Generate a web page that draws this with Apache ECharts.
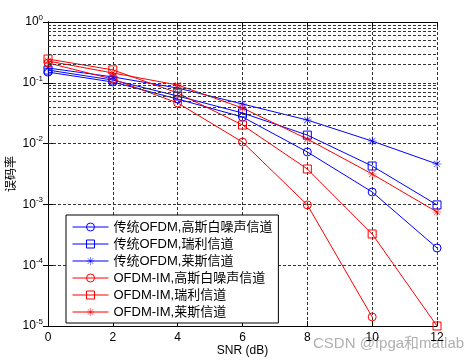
<!DOCTYPE html>
<html>
<head>
<meta charset="utf-8">
<script src="https://cdn.jsdelivr.net/npm/echarts@6/dist/echarts.min.js"></script>
<style>html,body{margin:0;padding:0;background:#fff;}#c{width:474px;height:361px;}</style>
</head>
<body>
<div id="c"></div>
<script>
const snr = [0, 2, 4, 6, 8, 10, 12];
const xTicks = [0, 2, 4, 6, 8, 10, 12];
const ofdmAwgn     = [0.150, 0.103, 0.054, 0.0274, 0.00728, 0.0016, 0.000192];
const ofdmRayleigh = [0.162, 0.111, 0.0606, 0.0319, 0.0138, 0.00428, 0.00098];
const ofdmRician   = [0.175, 0.125, 0.082, 0.0448, 0.0244, 0.0110, 0.00462];
const imAwgn       = [0.212, 0.115, 0.0466, 0.0106, 0.00098, 0.0000141, null];
const imRayleigh   = [0.246, 0.163, 0.068, 0.0202, 0.00382, 0.000326, 0.00001];
const imRician     = [0.228, 0.145, 0.092, 0.0385, 0.0119, 0.00316, 0.00075];
const seriesNames = ['传统OFDM,高斯白噪声信道', '传统OFDM,瑞利信道', '传统OFDM,莱斯信道',
                     'OFDM-IM,高斯白噪声信道', 'OFDM-IM,瑞利信道', 'OFDM-IM,莱斯信道'];
const decades = [-5, -4, -3, -2, -1];
const minorMult = [2, 3, 4, 5, 6, 7, 8, 9];

const FONT = '"Liberation Sans", Arial, "Noto Sans CJK SC", sans-serif';
const STAR = 'path://M-0.3,-5L0.3,-5L0.3,5L-0.3,5Z M-5,-0.3L5,-0.3L5,0.3L-5,0.3Z M3.32,3.75L-3.75,-3.32L-3.32,-3.75L3.75,3.32Z M-3.75,3.32L3.32,-3.75L3.75,-3.32L-3.32,3.75Z';
const GRID_STYLE = {color: '#333', type: [3, 2], width: 1};

const minorVals = [];
decades.forEach(d => minorMult.forEach(m => minorVals.push(m * Math.pow(10, d))));

function mk(name, vals, color, symbol) {
  const isStar = symbol === STAR;
  return {
    name: name, type: 'line', z: 3,
    data: snr.map((x, i) => [x, vals[i]]).filter(p => p[1] != null),
    symbol: symbol, symbolSize: isStar ? 9 : 8,
    lineStyle: {color: color, width: 1},
    itemStyle: isStar ? {color: color, borderWidth: 0}
                      : {color: 'rgba(255,255,255,0)', borderColor: color, borderWidth: 1},
    emphasis: {disabled: true},
    animation: false
  };
}

const chart = echarts.init(document.getElementById('c'), null, {renderer: 'canvas'});
const expLabel = v => {
  const e = Math.round(Math.log10(v));
  return '{b|10}{e|' + e + '}';
};
const rich = {
  b: {fontSize: 12, fontFamily: FONT, color: '#000'},
  e: {fontSize: 8, fontFamily: FONT, color: '#000', verticalAlign: 'bottom', padding: [0, 0, 9, 0]}
};
chart.setOption({
  animation: false,
  backgroundColor: '#fff',
  textStyle: {fontFamily: FONT},
  grid: {left: 48, right: 37, top: 22, bottom: 35, containLabel: false, outerBoundsMode: 'none'},
  xAxis: [{
    type: 'value', min: 0, max: 12, interval: 2,
    name: 'SNR (dB)', nameLocation: 'middle', nameGap: 19, nameMoveOverlap: false,
    nameTextStyle: {fontSize: 12, color: '#000', fontFamily: FONT},
    axisLine: {show: true, lineStyle: {color: '#000', width: 1}},
    axisTick: {show: true, inside: true, length: 5, lineStyle: {color: '#000'}},
    axisLabel: {fontSize: 12, color: '#000', margin: 6, fontFamily: FONT,
                customValues: xTicks},
    splitLine: {show: true, lineStyle: GRID_STYLE}
  }, {
    type: 'value', min: 0, max: 12, interval: 2, position: 'top',
    axisLine: {show: true, lineStyle: {color: '#000', width: 1}},
    axisTick: {show: true, inside: true, length: 5, lineStyle: {color: '#000'}},
    axisLabel: {show: false}, splitLine: {show: false}
  }],
  yAxis: [{
    type: 'log', logBase: 10, min: 1e-5, max: 1,
    name: '误码率', nameLocation: 'middle', nameGap: 30, nameRotate: 90, nameMoveOverlap: false,
    nameTextStyle: {fontSize: 12, color: '#000', fontFamily: FONT},
    axisLine: {show: true, lineStyle: {color: '#000', width: 1}},
    axisTick: {show: true, inside: true, length: 5, lineStyle: {color: '#000'}},
    axisLabel: {margin: 5, formatter: expLabel, rich: rich},
    splitLine: {show: true, lineStyle: GRID_STYLE}
  }, {
    type: 'log', logBase: 10, min: 1e-5, max: 1, position: 'right',
    axisLine: {show: true, lineStyle: {color: '#000', width: 1}},
    axisTick: {show: true, inside: true, length: 5, lineStyle: {color: '#000'}},
    axisLabel: {show: false}, splitLine: {show: false}
  }],
  legend: {
    orient: 'vertical', left: 66, top: 215,
    data: seriesNames,
    backgroundColor: '#fff', borderColor: '#000', borderWidth: 1,
    padding: [5, 6, 4, 6], itemGap: 3, itemWidth: 36, itemHeight: 10,
    lineStyle: {width: 1},
    itemStyle: {borderWidth: 1},
    textStyle: {fontSize: 13, color: '#000', fontFamily: FONT, lineHeight: 14},
    selectedMode: false, z: 10
  },
  series: [
    {
      name: 'minorGrid', type: 'line', z: 1, data: [[0, 1]], symbol: 'none',
      lineStyle: {opacity: 0}, silent: true, animation: false,
      markLine: {
        silent: true, symbol: 'none', animation: false,
        label: {show: false},
        lineStyle: GRID_STYLE,
        data: minorVals.map(v => ({yAxis: v}))
      }
    },
    mk(seriesNames[0], ofdmAwgn, '#0000ff', 'circle'),
    mk(seriesNames[1], ofdmRayleigh, '#0000ff', 'rect'),
    mk(seriesNames[2], ofdmRician, '#0000ff', STAR),
    mk(seriesNames[3], imAwgn, '#ff0000', 'circle'),
    mk(seriesNames[4], imRayleigh, '#ff0000', 'rect'),
    mk(seriesNames[5], imRician, '#ff0000', STAR)
  ],
  graphic: [{
    type: 'text', left: 313, top: 336, silent: true,
    style: {text: 'CSDN @fpga和matlab', fill: 'rgba(110,110,110,0.55)',
            font: '15px ' + FONT}
  }]
});
</script>
</body>
</html>
